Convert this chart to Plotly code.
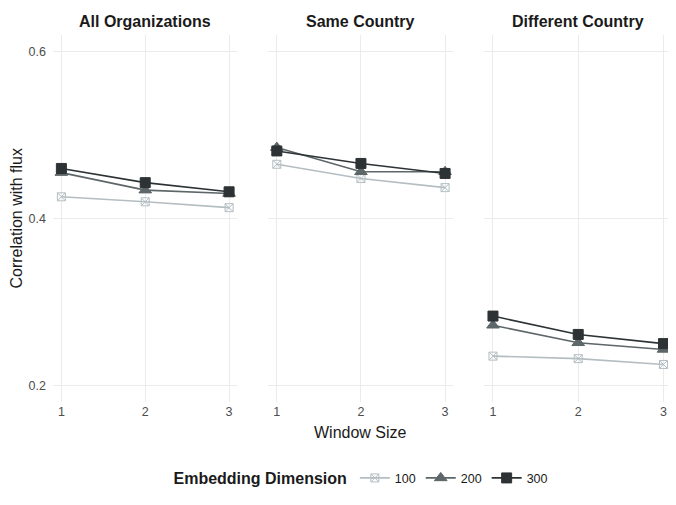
import plotly.graph_objects as go

# window sizes and panel names
window = [1, 2, 3]
panels = ["All Organizations", "Same Country", "Different Country"]
dims = ["100", "200", "300"]

# correlation with flux, per panel, per embedding dimension
all_org = {
    "100": [0.426, 0.420, 0.413],
    "200": [0.455, 0.434, 0.430],
    "300": [0.460, 0.443, 0.432],
}
same_country = {
    "100": [0.465, 0.448, 0.437],
    "200": [0.485, 0.456, 0.456],
    "300": [0.481, 0.466, 0.454],
}
diff_country = {
    "100": [0.235, 0.232, 0.225],
    "200": [0.272, 0.251, 0.243],
    "300": [0.283, 0.261, 0.250],
}
y_ticks = [0.2, 0.4, 0.6]

colors = {"100": "#b4bec2", "200": "#5d6668", "300": "#2d3335"}
symbols = {"100": "square-x-open", "200": "triangle-up", "300": "square"}
sizes = {"100": 8, "200": 11, "300": 10}

panel_data = [all_org, same_country, diff_country]
domains = [[0.0, 0.298], [0.348, 0.647], [0.697, 1.0]]

fig = go.Figure()

for i, data in enumerate(panel_data):
    suffix = "" if i == 0 else str(i + 1)
    for d in dims:
        fig.add_trace(go.Scatter(
            x=window, y=data[d],
            mode="lines+markers",
            name=d,
            legendgroup=d,
            showlegend=(i == 0),
            line=dict(color=colors[d], width=1.6),
            marker=dict(symbol=symbols[d], size=sizes[d], color=colors[d],
                        line=dict(color=colors[d], width=1)),
            xaxis="x" + suffix, yaxis="y" + suffix,
        ))

grid = "#ebebeb"
axis_common = dict(showline=False, zeroline=False, gridcolor=grid, gridwidth=1.4,
                   ticks="", automargin=False,
                   tickfont=dict(family="Liberation Sans, Arial", size=12.5, color="#4d4d4d"))

# page body has an 8px margin, so the figure is a bit smaller than the window
layout = dict(
    width=668, height=497,
    margin=dict(l=45, r=4, t=27, b=103, autoexpand=False),
    plot_bgcolor="white", paper_bgcolor="white",
    font=dict(family="Liberation Sans, Arial", color="#1a1a1a"),
    legend=dict(
        orientation="h", x=0.5, xanchor="center", y=-0.167, yanchor="top",
        title=dict(text="<b>Embedding Dimension</b>", font=dict(size=16, color="#1a1a1a")),
        font=dict(size=12.5, color="#1a1a1a"),
    ),
)

annotations = []
for i in range(3):
    suffix = "" if i == 0 else str(i + 1)
    layout["xaxis" + suffix] = dict(
        domain=domains[i], range=[0.9, 3.1], tickvals=window,
        anchor="y" + suffix, **axis_common,
    )
    layout["yaxis" + suffix] = dict(
        domain=[0, 1], range=[0.18, 0.62], tickvals=y_ticks,
        showticklabels=(i == 0), anchor="x" + suffix,
        tickformat=".1f", ticklabelstandoff=6, **axis_common,
    )
    annotations.append(dict(
        text="<b>" + panels[i] + "</b>", x=sum(domains[i]) / 2, y=1.0,
        xref="paper", yref="paper", xanchor="center", yanchor="bottom", yshift=3,
        showarrow=False, font=dict(size=16, color="#1a1a1a"),
    ))

annotations.append(dict(
    text="Window Size", x=sum(domains[1]) / 2, y=0, xref="paper", yref="paper",
    xanchor="center", yanchor="top", yshift=-20, showarrow=False,
    font=dict(size=16, color="#1a1a1a"),
))
annotations.append(dict(
    text="Correlation with flux", x=0, y=0.5, xref="paper", yref="paper",
    xanchor="center", yanchor="middle", xshift=-37, textangle=-90, showarrow=False,
    font=dict(size=16, color="#1a1a1a"),
))
layout["annotations"] = annotations

fig.update_layout(**layout)
fig.write_html("out.html")
